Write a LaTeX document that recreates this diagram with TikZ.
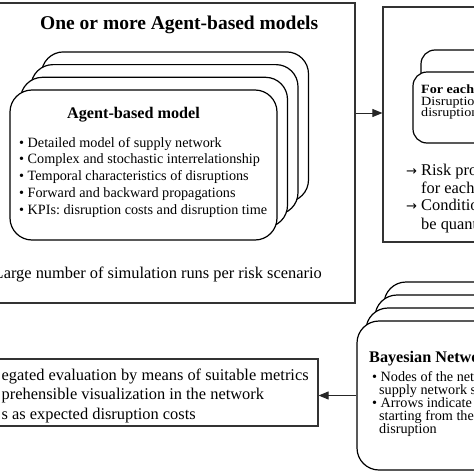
\documentclass[tikz,border=0pt]{standalone}
\usepackage{fontspec}
\setmainfont{Liberation Serif}
\newfontfamily\widefont[FakeStretch=1.12]{Liberation Serif}
\newfontfamily\arrowfont{DejaVu Sans}
\usetikzlibrary{arrows.meta}
\begin{document}
\frenchspacing
\begin{tikzpicture}[x=1pt,y=-1pt,
  frame/.style={draw=black!80, line width=1.2pt, rectangle, inner sep=0pt},
  card/.style={draw=black, line width=1.2pt, fill=white, rounded corners=22pt},
  smallcard/.style={draw=black, line width=1.2pt, fill=white, rounded corners=14pt},
  arr/.style={draw=black!85, line width=1pt, -{Triangle[length=10pt,width=8pt]}},
  txt/.style={inner sep=0pt, anchor=base west},
  txte/.style={inner sep=0pt, anchor=base east},
  fbig/.style={font=\fontsize{19.5}{23}\selectfont\bfseries},
  fhead/.style={font=\fontsize{16.2}{19}\selectfont\bfseries},
  fbody/.style={font=\fontsize{16.4}{19.5}\selectfont},
  fsmall/.style={font=\fontsize{14.2}{17}\selectfont},
  fnarrow/.style={font=\widefont\fontsize{12.6}{14}\selectfont},
  fnarrowb/.style={font=\widefont\fontsize{12.6}{14}\selectfont\bfseries},
  farrow/.style={font=\arrowfont\fontsize{13}{15}\selectfont},
]
\useasboundingbox (0,0) rectangle (474,474);
\clip (0,0) rectangle (474,474);
\fill[white] (0,0) rectangle (474,474);

% ---------- Box 1: agent-based models ----------
\node[frame, minimum width=365pt, minimum height=300pt] (box1) at (172.5,153) {};
\foreach \k in {3,2,1} {
  \draw[card] (10+10.5*\k, 90-12.7*\k) rectangle (277+10.5*\k, 240-12.7*\k);
}
\node[card, minimum width=267pt, minimum height=150pt, inner sep=0pt] (abm) at (143.5,165) {};
\node[txt, fbig] (t1) at (40,29) {One or more Agent-based models};
\node[txt, fhead] (t2) at (67,118) {Agent-based model};
\node[txt, fsmall] (b1) at (19,147) {• Detailed model of supply network};
\node[txt, fsmall] (b2) at (19,163.8) {• Complex and stochastic interrelationship};
\node[txt, fsmall] (b3) at (19,180.6) {• Temporal characteristics of disruptions};
\node[txt, fsmall] (b4) at (19,197.4) {• Forward and backward propagations};
\node[txt, fsmall] (b5) at (19,214.2) {• KPIs: disruption costs and disruption time};
\node[txte, fbody] (t3) at (322,278) {Large number of simulation runs per risk scenario};

% ---------- Box 2 ----------
\node[frame, minimum width=117pt, minimum height=235pt] (box2) at (441.5,124.5) {};
\draw[smallcard] (421,50) rectangle (520,121);
\node[smallcard, minimum width=107pt, minimum height=71pt, inner sep=0pt] (rs) at (466.5,107.5) {};
\node[txt, fnarrowb] (r1) at (421,93.5) {For each risk scenario:};
\node[txt, fnarrow] (r2) at (421,105) {Disruption probabilities};
\node[txt, fnarrow] (r3) at (421,116.5) {disruption costs};
\node[txt, farrow] (q1a) at (406,175) {→};
\node[txt, fbody] (q1) at (421,175) {Risk profiles};
\node[txt, fbody] (q1b) at (421,193) {for each node};
\node[txt, farrow] (q2a) at (406,210) {→};
\node[txt, fbody] (q2) at (421,210) {Conditional risks can};
\node[txt, fbody] (q2b) at (421,229) {be quantified};

% ---------- Box 3: Bayesian network ----------
\foreach \k in {3,2,1} {
  \draw[card] (357+9*\k, 321-13*\k) rectangle (540+9*\k, 470-13*\k);
}
\node[card, minimum width=183pt, minimum height=149pt, inner sep=0pt] (bay) at (448.5,395.5) {};
\node[txt, fhead] (h3) at (369,362) {Bayesian Network};
\node[txt, fsmall] (n1) at (372,381) {• Nodes of the network =};
\node[txt, fsmall] (n2) at (379,394) {supply network structure};
\node[txt, fsmall] (n3) at (372,407) {• Arrows indicate influences};
\node[txt, fsmall] (n4) at (379,420) {starting from the};
\node[txt, fsmall] (n5) at (379,433) {disruption};

% ---------- Box 4: evaluation ----------
\node[frame, minimum width=328pt, minimum height=67pt] (box4) at (154,392.5) {};
\node[txt, fbody] (e1) at (1.5,380) {egated evaluation by means of suitable metrics};
\node[txt, fbody] (e2) at (1.5,399.5) {prehensible visualization in the network};
\node[txt, fbody] (e3) at (1.5,419) {s as expected disruption costs};

% ---------- connectors ----------
\coordinate (a1) at (0,113);
\draw[arr] (box1.east |- a1) -- (box2.west |- a1);
\draw[arr] (bay.west) -- (box4.east |- bay.west);
\end{tikzpicture}
\end{document}
